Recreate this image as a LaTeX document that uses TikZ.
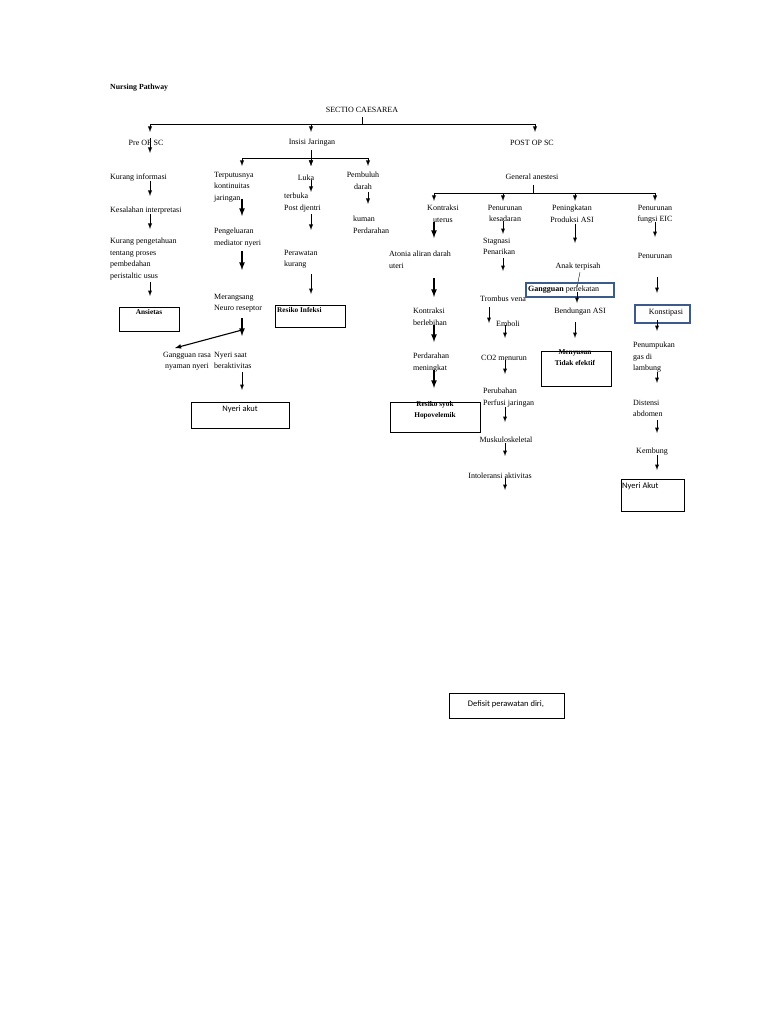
\documentclass[tikz,border=0pt]{standalone}
\usepackage{fontspec}
\setmainfont{Liberation Serif}
\newfontfamily\boxfont{Carlito}
\definecolor{bbcol}{RGB}{60,90,140}
\begin{document}
\begin{tikzpicture}[x=1pt,y=-1pt,
  t/.style={font=\fontsize{8}{11.5}\selectfont,inner sep=0pt,align=left},
  tc/.style={t,align=center},
  ar/.style={-latex,line width=0.9pt},
  arT/.style={-latex,line width=1.6pt},
  bx/.style={draw,line width=0.7pt},
  bb/.style={draw=bbcol,line width=1.5pt}]
\useasboundingbox[fill=white] (0,0) rectangle (768,1024);
\node[t,anchor=west,font=\fontsize{7.8}{9}\selectfont\bfseries] (title) at (110,88) {Nursing Pathway};
\node[tc] (sc) at (362,110) {SECTIO CAESAREA};
\draw[line width=0.8pt] (150,124) -- (535,124);
\draw (362,117) -- (362,124);
\foreach \x in {150,311,535} \draw[ar] (\x,124) -- (\x,132);
\node[tc] (pre) at (146,143) {Pre OP SC};
\node[tc] (ins) at (312,143) {Insisi Jaringan};
\node[tc] (post) at (532,143) {POST OP SC};
\draw[ar] (150,138) -- (150,153);
\draw[ar] (311,150) -- (311,166);
\draw[line width=0.8pt] (242,158) -- (368,158);
\foreach \x in {242,311,368} \draw[ar] (\x,158) -- (\x,166);
% left column
\node[t,anchor=west] (ki) at (110,178) {Kurang informasi};
\draw[ar] (150,181) -- (150,196);
\node[t,anchor=west] (kes) at (110,211) {Kesalahan interpretasi};
\draw[ar] (150,214) -- (150,229);
\node[t,anchor=north west,font=\fontsize{8}{11.6}\selectfont] (kp) at (110,238) {Kurang pengetahuan\\tentang proses\\pembedahan\\peristaltic usus};
\draw[ar] (150,282) -- (150,296);
\draw[bx] (119,307) rectangle (179,331);
\node[t,font=\fontsize{7.3}{9}\selectfont\bfseries] (ans) at (149,312) {Ansietas};
% column 2
\node[t,anchor=north west] (ter) at (214,172) {Terputusnya\\kontinuitas\\jaringan};
\draw[arT] (242,199) -- (242,216);
\node[t,anchor=north west] (pen) at (214,228) {Pengeluaran\\mediator nyeri};
\draw[arT] (242,251) -- (242,270);
\node[t,anchor=north west] (mer) at (214,294) {Merangsang\\Neuro reseptor};
\draw[arT] (242,318) -- (242,336);
\draw[-latex,line width=1.1pt] (242,330) -- (175,348);
\node[tc,anchor=north] (gan) at (187,352) {Gangguan rasa\\nyaman nyeri};
\node[t,anchor=north west] (nsa) at (214,352) {Nyeri saat\\beraktivitas};
\draw[ar] (242,372) -- (242,390);
\draw[bx] (191,402) rectangle (289,428);
\node[t,font=\boxfont\fontsize{8.5}{10}\selectfont] (na) at (240,409) {Nyeri akut};
% column 3
\node[tc] (luka) at (306,178) {Luka};
\draw[ar] (311,180) -- (311,192);
\node[t,anchor=north west] (terb) at (284,193) {terbuka\\Post djentri};
\draw[ar] (311,214) -- (311,230);
\node[t,anchor=north west] (per) at (284,250) {Perawatan\\kurang};
\draw[ar] (311,274) -- (311,294);
\draw[bx] (275,305) rectangle (345,327);
\node[t,anchor=west,font=\fontsize{7.3}{9}\selectfont\bfseries] (ri) at (277,310) {Resiko Infeksi};
% column 4
\node[tc,anchor=north] (pem) at (363,172) {Pembuluh\\darah};
\draw[ar] (368,192) -- (368,204);
\node[t,anchor=north west] (kum) at (353,216) {kuman\\Perdarahan};
% right side
\node[tc] (ga) at (532,177) {General anestesi};
\draw[line width=0.8pt] (434,193) -- (655,193);
\draw (533,185) -- (533,193);
\foreach \x in {434,503,575,655} \draw[ar] (\x,193) -- (\x,201);
% r col1
\node[tc,anchor=north] (ku) at (443,205) {Kontraksi\\uterus};
\draw[arT] (434,222) -- (434,238);
\node[t,anchor=north west] (at) at (389,251) {Atonia aliran darah\\uteri};
\draw[arT] (434,278) -- (434,297);
\node[t,anchor=north west] (kb) at (413,308) {Kontraksi\\berlebihan};
\draw[arT] (434,325) -- (434,342);
\node[t,anchor=north west] (pm) at (413,353) {Perdarahan\\meningkat};
\draw[arT] (434,370) -- (434,388);
\draw[bx] (390,402) rectangle (480,432);
\node[tc,anchor=north,font=\fontsize{7.3}{11}\selectfont\bfseries] (rs) at (435,401) {Resiko syok\\Hopovelemik};
% r col2
\node[tc,anchor=north] (pk) at (505,205) {Penurunan\\kesadaran};
\draw[ar] (503,221) -- (503,234);
\node[t,anchor=north west] (st) at (483,238) {Stagnasi\\Penarikan};
\draw[ar] (503,258) -- (503,271);
\node[tc] (tv) at (503,299) {Trombus vena};
\draw[ar] (489,307) -- (489,323);
\node[tc] (em) at (508,324) {Emboli};
\draw[ar] (505,325) -- (505,338);
\node[t,anchor=west] (co) at (481,358) {CO2 menurun};
\draw[ar] (505,360) -- (505,374);
\node[t,anchor=north west] (pf) at (483,388) {Perubahan\\Perfusi jaringan};
\draw[ar] (505,407) -- (505,422);
\node[tc] (mu) at (506,440) {Muskuloskeletal};
\draw[ar] (505,443) -- (505,456);
\node[tc] (ia) at (500,476) {Intoleransi aktivitas};
\draw[ar] (505,478) -- (505,490);
% r col3
\node[tc,anchor=north] (pa) at (572,205) {Peningkatan\\Produksi ASI};
\draw[ar] (575,224) -- (575,243);
\node[tc] (an) at (578,267) {Anak terpisah};
\draw (580,272) -- (577,287);
\draw[bb] (526,283) rectangle (614,297);
\node[t,anchor=west] (gp) at (528,290) {\textbf{Gangguan} perlekatan};
\draw[ar] (577,292) -- (577,303);
\node[tc] (ba) at (580,312) {Bendungan ASI};
\draw[ar] (575,322) -- (575,338);
\draw[bx] (541,351) rectangle (611,386);
\node[tc,anchor=north,font=\fontsize{7.3}{11}\selectfont\bfseries] (mt) at (575,350) {Menyusun\\Tidak efektif};
% r col4
\node[tc,anchor=north] (pe) at (655,205) {Penurunan\\fungsi EIC};
\draw[ar] (655,222) -- (655,237);
\node[tc] (pn) at (655,256) {Penurunan};
\draw[ar] (657,277) -- (657,293);
\draw[bb] (635,305) rectangle (690,323);
\node[tc] (ko) at (666,313) {Konstipasi};
\draw[ar] (657,320) -- (657,331);
\node[t,anchor=north west] (pg) at (633,342) {Penumpukan\\gas di\\lambung};
\draw[ar] (657,372) -- (657,383);
\node[t,anchor=north west] (di) at (633,400) {Distensi\\abdomen};
\draw[ar] (657,420) -- (657,433);
\node[tc] (ke) at (652,452) {Kembung};
\draw[ar] (657,455) -- (657,470);
\draw[bx] (621,479) rectangle (684,511);
\node[t,anchor=west,font=\boxfont\fontsize{8.5}{10}\selectfont] (nA) at (622,486) {Nyeri Akut};
% bottom
\draw[bx] (449,693) rectangle (564,718);
\node[tc,font=\boxfont\fontsize{8.5}{10}\selectfont] (dp) at (506,704) {Defisit perawatan diri,};
\end{tikzpicture}
\end{document}
